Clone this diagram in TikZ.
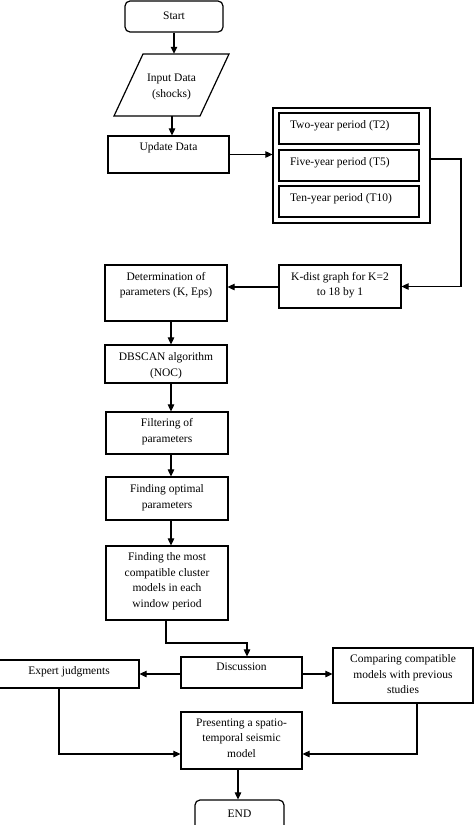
\documentclass[tikz,border=0pt]{standalone}
\usepackage{fontspec}
\setmainfont{Liberation Serif}
\usetikzlibrary{arrows.meta,calc}
\newcommand{\tx}[2]{\raisebox{\dimexpr#1pt-2.875pt\relax}[0pt][0pt]{\begin{tabular}{@{}c@{}}#2\end{tabular}}}
\newcommand{\txl}[2]{\raisebox{\dimexpr#1pt-2.875pt\relax}[0pt][0pt]{\makebox[118pt][l]{#2}}}
\begin{document}
\begin{tikzpicture}[x=1pt,y=-1pt,
  every node/.style={font=\fontsize{11.5}{15.5}\selectfont, text=black},
  box/.style={draw=black, line width=1.2pt, inner sep=0pt, fill=white},
  term/.style={box, rounded corners=5pt},
  ghost/.style={inner sep=0pt},
  arr/.style={line width=1.1pt, -{Triangle[length=7pt,width=6.5pt]}},
  ln/.style={line width=1.1pt}]
\useasboundingbox (0,0) rectangle (474,825);
\fill[white] (0,0) rectangle (474,825);

% nodes
\node[term, minimum width=98pt, minimum height=31pt] (start) at (174,16.5) {\tx{0}{Start}};
\node[ghost, minimum width=57pt, minimum height=62pt] (input) at (171.5,85) {\tx{-1.5}{Input Data\\(shocks)}};
\draw[line width=1.2pt, line join=miter] (143,54) -- (229,54) -- (200,116) -- (114,116) -- cycle;
\node[box, minimum width=121pt, minimum height=37pt] (update) at (168.5,154.5) {\tx{6.5}{Update Data}};

\node[box, minimum width=157pt, minimum height=115pt] (outer) at (351.5,165.5) {};
\node[box, minimum width=140pt, minimum height=31pt] (t2) at (349,128.5) {\txl{2.5}{Two-year period (T2)}};
\node[box, minimum width=140pt, minimum height=31pt] (t5) at (349,165.5) {\txl{2.5}{Five-year period (T5)}};
\node[box, minimum width=140pt, minimum height=31pt] (t10) at (349,201.5) {\txl{3}{Ten-year period (T10)}};

\node[box, minimum width=122pt, minimum height=43pt] (kdist) at (340,286.5) {\tx{1.5}{K-dist graph for K=2\\to 18 by 1}};
\node[box, minimum width=122pt, minimum height=56pt] (det) at (166,293) {\tx{8}{Determination of\\parameters (K, Eps)}};
\node[box, minimum width=122pt, minimum height=38pt] (dbscan) at (166,364) {\tx{-1.5}{DBSCAN algorithm\\(NOC)}};
\node[box, minimum width=122pt, minimum height=42pt] (filter) at (167,433) {\tx{1.5}{Filtering of\\parameters}};
\node[box, minimum width=122pt, minimum height=43pt] (optimal) at (167,498.5) {\tx{1}{Finding optimal\\parameters}};
\node[box, minimum width=122pt, minimum height=74pt] (most) at (167,583) {\tx{1.75}{Finding the most\\compatible cluster\\models in each\\window period}};

\node[box, minimum width=121pt, minimum height=31pt] (disc) at (241.5,672.5) {\tx{4.5}{Discussion}};
\node[box, minimum width=140pt, minimum height=28pt] (expert) at (69,674) {\tx{2}{Expert judgments}};
\node[box, minimum width=140pt, minimum height=55pt] (comp) at (403,675.5) {\tx{0}{Comparing compatible\\models with previous\\studies}};
\node[box, minimum width=121pt, minimum height=57pt] (pres) at (241.5,740.5) {\tx{1.8}{Presenting a spatio-\\temporal seismic\\model}};
\node[term, minimum width=89pt, minimum height=30pt] (end) at (239.5,815) {\tx{0}{END}};

% helper coordinates
\coordinate (colx) at (171,0);
\coordinate (t5out) at ($(outer.east)+(0,-6.5)$);
\coordinate (rline) at (461,0);
\coordinate (mostx) at (166,0);
\coordinate (mostbend) at (166,643);
\coordinate (discx) at (247,0);
\coordinate (expx) at (59,0);
\coordinate (compx) at (417,0);
\coordinate (joinY) at (0,754);
\coordinate (endx) at (238,0);

% connectors
\draw[arr] (start.south) -- (start.south |- input.north);
\draw[arr] (input.south -| 172,0) -- (update.north -| 172,0);
\draw[arr] (update.east) -- (update.east -| outer.west);
\draw[arr] (t5out) -- (t5out -| rline) -- (rline |- kdist.east) -- (kdist.east);
\draw[arr] (kdist.west |- 0,287) -- (det.east |- 0,287);
\draw[arr] (det.south -| colx) -- (dbscan.north -| colx);
\draw[arr] (dbscan.south -| colx) -- (filter.north -| colx);
\draw[arr] (filter.south -| colx) -- (optimal.north -| colx);
\draw[arr] (optimal.south -| colx) -- (most.north -| colx);
\draw[arr] (most.south -| mostx) -- (mostbend) -- (mostbend -| discx) -- (disc.north -| discx);
\draw[arr] (disc.west |- expert.east) -- (expert.east);
\draw[arr] (disc.east |- expert.east) -- (comp.west |- expert.east);
\draw[arr] (expert.south -| expx) -- (expx |- joinY) -- (pres.west |- joinY);
\draw[arr] (comp.south -| compx) -- (compx |- joinY) -- (pres.east |- joinY);
\draw[arr] (pres.south -| endx) -- (end.north -| endx);
\end{tikzpicture}
\end{document}
